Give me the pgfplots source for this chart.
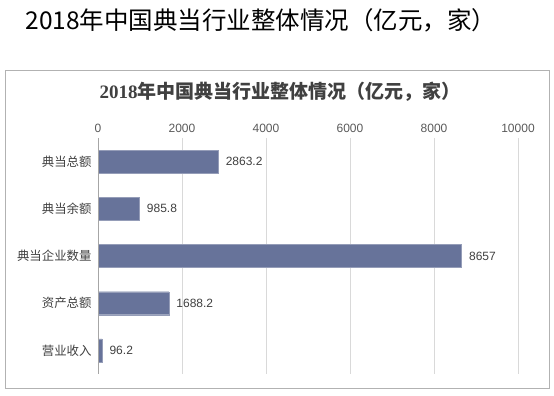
\documentclass[border=0pt]{standalone}
\usepackage{fontspec}
\usepackage{pgfplots}
\pgfplotsset{compat=1.18}
\setmainfont{Liberation Sans}
\newfontfamily\cjk{Noto Sans CJK SC}
\newfontfamily\serifnum{Liberation Serif}
\definecolor{barc}{RGB}{103,115,154}
\definecolor{gridc}{RGB}{217,217,217}
\definecolor{txt}{RGB}{64,64,64}
\definecolor{tick}{RGB}{89,89,89}
\begin{document}
\begin{tikzpicture}
\path[use as bounding box] (0pt,0pt) rectangle (554pt,396pt);
\node[font=\cjk\fontsize{24.5}{28}\selectfont, text=black] at (261pt,376pt) {2018年中国典当行业整体情况（亿元，家）};
\draw[color=gray!60, line width=0.8pt] (5pt,8pt) rectangle (549pt,326pt);
\node[text=txt] at (280pt,304pt) {{\fontsize{19}{22}\selectfont\serifnum\bfseries 2018}{\cjk\bfseries\fontsize{19}{22}\selectfont 年中国典当行业整体情况（亿元，家）}};
\begin{axis}[
  at={(98pt,22pt)}, anchor=south west,
  width=420pt, height=236pt, scale only axis,
  xbar, bar width=23pt,
  xmin=0, xmax=10000,
  ymin=-0.5, ymax=4.5, y dir=reverse,
  ytick={0,1,2,3,4},
  yticklabels={典当总额,典当余额,典当企业数量,资产总额,营业收入},
  yticklabel style={font=\cjk\fontsize{12.4}{14}\selectfont, text=txt, xshift=-3pt},
  xtick={0,2000,4000,6000,8000,10000},
  xticklabel pos=top,
  xticklabel style={font=\fontsize{12}{14}\selectfont, text=tick, yshift=2pt},
  /pgf/number format/assume math mode=true,
  /pgf/number format/1000 sep={},
  scaled x ticks=false,
  major tick length=0pt,
  axis line style={draw=none},
  xmajorgrids, grid style={gridc, line width=0.8pt},
  nodes near coords,
  every node near coord/.style={anchor=west, font=\fontsize{12}{14}\selectfont, text=txt, xshift=4pt},
  point meta=explicit symbolic,
  clip=false,
]
\addplot[draw=barc!70!white, fill=barc] coordinates {
  (2863.2,0) [2863.2]
  (985.8,1) [985.8]
  (8657,2) [8657]
  (1688.2,3) [1688.2]
  (96.2,4) [96.2]
};
\draw[gray!70, line width=0.8pt] (axis cs:0,-0.5) -- (axis cs:0,4.5);
\end{axis}
\end{tikzpicture}
\end{document}
